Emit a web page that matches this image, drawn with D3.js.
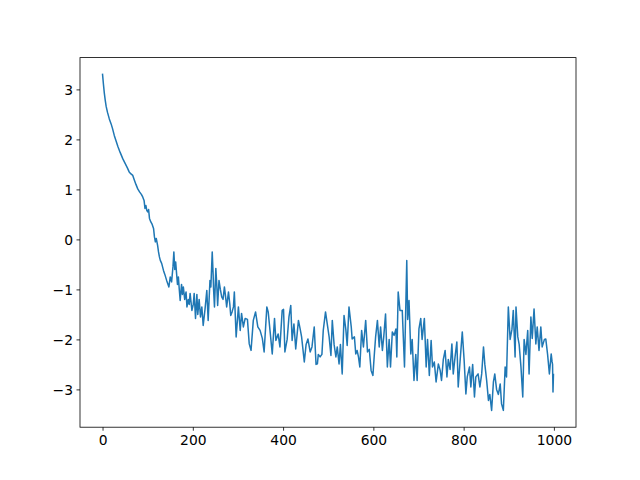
<!DOCTYPE html>
<html>
<head>
<meta charset="utf-8">
<script src="https://cdn.jsdelivr.net/npm/d3@7"></script>
<style>
  html, body { margin: 0; padding: 0; background: #fff; }
  svg { display: block; }
</style>
</head>
<body>
<svg id="chart" width="640" height="480"></svg>
<script>
// Data (step index, value)
const steps = [
  0, 2, 4, 6, 8, 11, 15, 19, 22, 26, 30, 34, 39, 45, 50, 55, 59, 63, 67, 70,
  74, 78, 82, 86, 89, 92, 94, 96, 98, 100, 102, 104, 107, 110, 113, 115, 117, 119, 122, 124,
  126, 128, 131, 135, 138, 142, 147, 150, 153, 156, 158, 160, 162, 164, 166, 168, 170, 172, 175, 177,
  179, 182, 185, 187, 190, 192, 194, 196, 198, 201, 203, 206, 209, 211, 214, 217, 220, 223, 227, 231,
  234, 238, 240, 243, 245, 246, 248, 251, 253, 255, 258, 261, 264, 267, 270, 272, 275, 277, 279, 282,
  284, 287, 290, 292, 296, 301, 305, 308, 312, 316, 321, 325, 329, 334, 339, 344, 349, 354, 358, 364,
  367, 371, 376, 381, 384, 389, 393, 398, 401, 404, 409, 413, 417, 420, 424, 428, 434, 438, 441, 447,
  451, 455, 460, 464, 469, 473, 476, 478, 482, 486, 489, 494, 498, 502, 506, 509, 513, 517, 520, 524,
  527, 531, 535, 539, 542, 546, 551, 553, 558, 561, 564, 567, 570, 574, 578, 583, 587, 591, 595, 599,
  602, 605, 609, 613, 616, 620, 623, 627, 631, 635, 638, 642, 646, 650, 652, 655, 659, 664, 669, 674,
  676, 679, 683, 686, 690, 694, 697, 701, 705, 708, 713, 717, 720, 724, 728, 731, 735, 739, 744, 748,
  751, 755, 759, 763, 766, 770, 774, 777, 781, 785, 788, 792, 797, 801, 805, 808, 813, 816, 820, 824,
  827, 832, 836, 840, 844, 847, 851, 855, 858, 862, 866, 869, 873, 877, 881, 884, 888, 892, 895, 899,
  903, 907, 910, 914, 916, 920, 923, 927, 931, 934, 938, 942, 945, 949, 952, 956, 960, 963, 967, 971,
  974, 979, 982, 986, 990, 994, 996, 997, 998, 999
];
const values = [
  3.30, 3.10, 2.92, 2.78, 2.66, 2.54, 2.41, 2.31, 2.22, 2.08, 1.97, 1.86, 1.74, 1.61, 1.52, 1.43, 1.35, 1.31, 1.28, 1.20,
  1.10, 1.01, 0.95, 0.90, 0.85, 0.78, 0.62, 0.68, 0.58, 0.55, 0.60, 0.42, 0.35, 0.30, 0.22, 0.05, -0.05, 0.02, -0.12, -0.25,
  -0.35, -0.42, -0.48, -0.62, -0.70, -0.82, -0.95, -0.75, -0.85, -0.55, -0.25, -0.60, -0.45, -0.68, -0.90, -0.75, -1.00, -1.22, -0.90, -1.10,
  -0.95, -1.20, -1.05, -1.35, -1.20, -1.30, -1.08, -1.25, -1.42, -1.30, -1.08, -1.58, -1.10, -1.50, -1.20, -1.55, -1.35, -1.72, -1.40, -1.02,
  -1.62, -0.82, -0.95, -0.25, -0.70, -1.00, -1.35, -0.58, -0.90, -1.32, -0.82, -1.00, -1.15, -1.20, -0.95, -1.10, -1.35, -1.20, -1.05, -1.30,
  -1.52, -1.45, -1.35, -1.05, -1.95, -1.35, -1.82, -1.48, -1.75, -1.58, -1.60, -2.09, -2.22, -1.62, -1.45, -1.75, -1.82, -1.98, -2.25, -1.35,
  -1.45, -1.82, -2.29, -1.58, -2.02, -1.89, -2.15, -1.42, -1.40, -2.25, -2.00, -1.55, -1.32, -2.02, -1.69, -2.19, -1.62, -1.80, -1.95, -2.45,
  -2.10, -1.99, -2.25, -2.15, -1.75, -2.50, -2.49, -2.30, -2.35, -2.30, -1.82, -1.45, -1.70, -1.95, -2.32, -1.62, -2.10, -2.35, -2.15, -2.49,
  -2.10, -2.69, -1.52, -1.80, -2.12, -1.35, -1.75, -1.99, -1.95, -2.29, -2.22, -2.35, -2.55, -1.82, -2.15, -1.62, -2.25, -2.20, -2.62, -2.72,
  -2.32, -1.95, -1.62, -2.15, -1.75, -2.22, -1.95, -1.49, -2.55, -2.00, -2.55, -1.85, -1.92, -1.79, -2.35, -1.05, -1.42, -1.42, -2.55, -0.42,
  -1.60, -1.22, -2.29, -2.00, -2.82, -2.30, -2.82, -1.79, -1.58, -2.00, -1.58, -2.55, -2.00, -2.72, -2.02, -2.55, -2.45, -2.85, -2.49, -2.62,
  -2.82, -2.40, -2.22, -2.75, -2.40, -2.60, -2.09, -2.69, -2.35, -2.05, -2.95, -2.45, -1.85, -2.40, -3.09, -2.75, -2.55, -2.95, -2.50, -3.15,
  -2.75, -2.69, -2.95, -2.69, -2.15, -2.50, -2.82, -3.22, -3.10, -3.42, -2.85, -2.69, -3.00, -3.10, -2.89, -3.29, -3.42, -2.55, -2.75, -1.35,
  -2.00, -1.80, -1.42, -2.35, -1.35, -1.95, -2.10, -2.55, -3.15, -2.00, -2.30, -1.82, -2.69, -1.55, -1.98, -1.39, -2.09, -1.75, -2.22, -1.75,
  -2.15, -2.00, -1.99, -2.30, -2.69, -2.29, -2.45, -2.50, -3.05, -2.70
];
const xTicks = [0, 200, 400, 600, 800, 1000];
const yTicks = [-3, -2, -1, 0, 1, 2, 3];

const data = steps.map((s, i) => ({ x: s, y: values[i] }));

const W = 640, H = 480;
const L = 80, R = 576, T = 57.6, B = 427.2;

const xMin = d3.min(steps), xMax = d3.max(steps);
const yMin = d3.min(values), yMax = d3.max(values);
const xPad = (xMax - xMin) * 0.05, yPad = (yMax - yMin) * 0.05;

const x = d3.scaleLinear().domain([xMin - xPad, xMax + xPad]).range([L, R]);
const y = d3.scaleLinear().domain([yMin - yPad, yMax + yPad]).range([B, T]);

const svg = d3.select("#chart");
svg.append("rect").attr("width", W).attr("height", H).attr("fill", "#fff");

const fontSize = 13.89;
const fmt = d3.format("d");

const line = d3.line().x(d => x(d.x)).y(d => y(d.y));

svg.append("path")
  .datum(data)
  .attr("fill", "none")
  .attr("stroke", "#1f77b4")
  .attr("stroke-width", 1.5)
  .attr("stroke-linejoin", "round")
  .attr("stroke-linecap", "square")
  .attr("d", line);

// frame
svg.append("rect")
  .attr("x", L).attr("y", T).attr("width", R - L).attr("height", B - T)
  .attr("fill", "none").attr("stroke", "#000").attr("stroke-width", 0.8);

const xAxis = d3.axisBottom(x).tickValues(xTicks).tickFormat(fmt).tickSize(3.5).tickPadding(3.5);
const yAxis = d3.axisLeft(y).tickValues(yTicks).tickFormat(d3.format("d")).tickSize(3.5).tickPadding(3.5);

const gx = svg.append("g").attr("transform", `translate(0,${B})`).call(xAxis);
const gy = svg.append("g").attr("transform", `translate(${L},0)`).call(yAxis);

[gx, gy].forEach(g => {
  g.select(".domain").remove();
  g.selectAll(".tick line").attr("stroke", "#000").attr("stroke-width", 0.8);
  g.selectAll(".tick text")
    .attr("fill", "#000")
    .attr("font-family", "DejaVu Sans, sans-serif")
    .attr("font-size", fontSize);
});
gx.selectAll(".tick text").attr("dy", "0.76em");
gy.selectAll(".tick text").attr("dy", "0.36em");
</script>
</body>
</html>
